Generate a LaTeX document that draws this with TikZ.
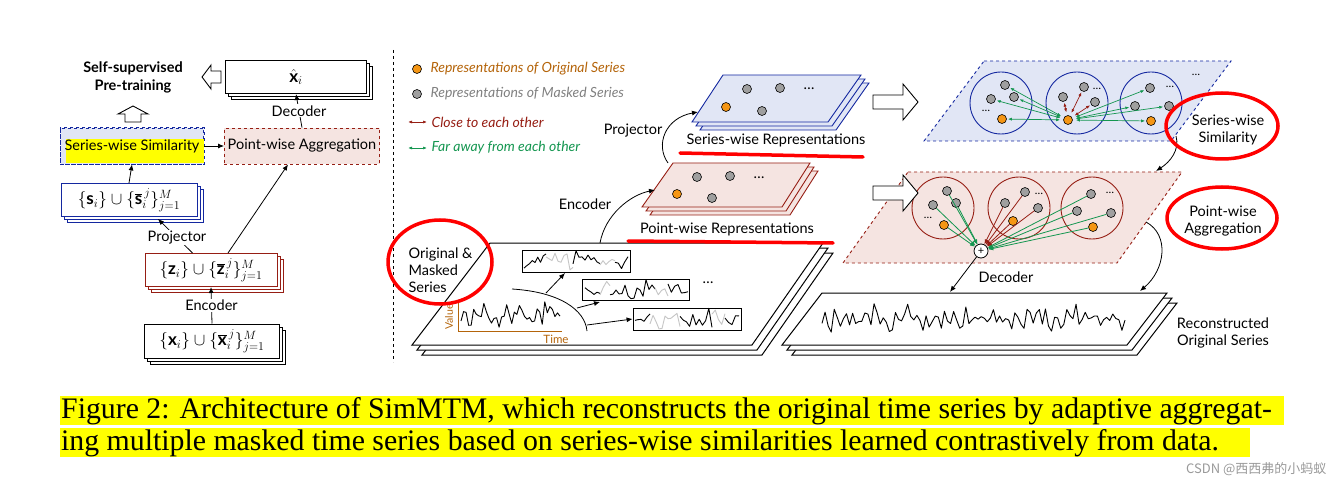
\documentclass[tikz,border=0pt]{standalone}
\usepackage{fontspec}
\setmainfont{Lato}
\newfontfamily\capfont{Liberation Serif}
\newfontfamily\cjkf{Noto Sans CJK SC}
\usetikzlibrary{arrows.meta,shadows}
\definecolor{myblue}{RGB}{20,40,160}
\definecolor{myred}{RGB}{150,30,20}
\definecolor{lblue}{RGB}{225,230,245}
\definecolor{lred}{RGB}{245,228,225}
\definecolor{myorange}{RGB}{245,150,20}
\definecolor{mybrown}{RGB}{180,100,10}
\definecolor{mygreen}{RGB}{20,150,80}
\definecolor{hl}{RGB}{255,255,0}
\newcommand\mywig[6][black]{\draw[#1,line width=0.9pt,line join=round] plot[domain=#2:#3,samples=#4,variable=\t] (\t,{#5+#6*(0.5*sin(mod(\t,100)*37)+0.3*sin(mod(\t,360)*11)+rand)});}
\begin{document}
\begin{tikzpicture}[x=1pt,y=-1pt,
  lab/.style={font=\fontsize{14.5}{17}\selectfont},
  stk/.style={rectangle,fill=white,line width=1pt,double copy shadow={shadow xshift=3pt,shadow yshift=-3pt,draw=#1,fill=white,line width=1pt},draw=#1,font=\fontsize{17}{20}\selectfont},
  arr/.style={-{Latex[length=6pt,width=5pt]},line width=0.8pt},
  dg/.style={circle,draw=black,fill=gray!75,inner sep=0pt,minimum size=9pt,line width=0.6pt},
  dor/.style={circle,draw=black,fill=myorange,inner sep=0pt,minimum size=9pt,line width=0.6pt},
  ga/.style={{Latex[length=4pt,width=3pt]}-{Latex[length=4pt,width=3pt]},mygreen,line width=0.7pt},
  ra/.style={{Latex[length=4pt,width=3pt]}-{Latex[length=4pt,width=3pt]},myred,line width=0.7pt},
  gs/.style={-{Latex[length=5pt,width=4pt]},mygreen,line width=0.8pt},
  rs/.style={-{Latex[length=5pt,width=4pt]},myred,line width=0.8pt},
  hol/.style={draw=black,fill=white,line width=0.9pt,line join=miter},
  leg/.style={anchor=west,font=\fontsize{14}{16}\selectfont\itshape},
  pen/.style={red,line width=3.5pt,line cap=round}]
\useasboundingbox (0,0) rectangle (1341,489);
\pgfmathsetseed{7}
% ---------- left panel
\node[font=\fontsize{14.5}{18}\selectfont\bfseries,align=center] (ssp) at (133,77) {Self-supervised\\Pre-training};
\draw[hol] (202,77) -- (211,65) -- (211,71) -- (221,71) -- (221,83) -- (211,83) -- (211,89) -- cycle;
\node[stk=black,minimum width=141pt,minimum height=33pt] (xhat) at (296,77) {$\hat{\mathbf{x}}_i$};
\draw[hol] (133,106) -- (148,114) -- (141,114) -- (141,122) -- (125,122) -- (125,114) -- (118,114) -- cycle;
\node[draw=myblue,dashed,fill=lblue,line width=0.8pt,minimum width=143pt,minimum height=36pt] (simil) at (132,146) {};
\fill[hl] (66,139) rectangle (204,163);
\draw[myblue,dashed,line width=0.8pt] (simil.north west) rectangle (simil.south east);
\node[lab] (similt) at (simil) {Series-wise Similarity};
\node[draw=myred,dashed,fill=lred,line width=0.8pt,minimum width=152pt,minimum height=36pt,lab] (agg) at (302,146) {Point-wise Aggregation};
\node[stk=myblue,minimum width=136pt,minimum height=33pt] (sbox) at (129,200) {$\{\mathbf{s}_i\}\cup\{\overline{\mathbf{s}}_i^{\,j}\}_{j=1}^{M}$};
\node[stk=myred,minimum width=132pt,minimum height=33pt] (zbox) at (211,270) {$\{\mathbf{z}_i\}\cup\{\overline{\mathbf{z}}_i^{\,j}\}_{j=1}^{M}$};
\node[stk=black,minimum width=135pt,minimum height=34pt] (xbox) at (212,341) {$\{\mathbf{x}_i\}\cup\{\overline{\mathbf{x}}_i^{\,j}\}_{j=1}^{M}$};
\draw[arr] (xbox.north) -- node[lab,fill=white,inner sep=1pt] {Encoder} (zbox.south);
\draw[arr] (zbox.north west)++(48,0) coordinate (zp) -- node[lab,fill=white,inner sep=1pt,pos=0.45] {Projector} (158,219) coordinate (sp);
\draw[arr] (sbox.north) -- (simil.south);
\draw[arr] (simil.east) -- (agg.west);
\draw[arr] (zbox.north)++(17,0) coordinate (zq) -- (288,164.5);
\draw[arr] (agg.north) -- node[lab,fill=white,inner sep=1pt] {Decoder} (xhat.south);
\draw[dashed,line width=0.8pt] (393,50) -- (393,362);
% ---------- legend
\node[dor] (l1) at (417,69) {};
\node[leg,text=mybrown] at (427,69) {Representations of Original Series};
\node[dg] (l2) at (417,94) {};
\node[leg,text=gray] at (427,94) {Representations of Masked Series};
\coordinate (r1) at (408,122); \coordinate (r2) at (427,122);
\draw[ra] (r1) -- (r2);
\node[leg,text=myred] at (428,122) {Close to each other};
\coordinate (g1) at (408,148); \coordinate (g2) at (427,148);
\draw[ga] (g1) -- (g2);
\node[leg,text=mygreen] at (428,148) {Far away from each other};
% ---------- input plane
\foreach \o in {10,5,0}{
 \draw[fill=white,line width=1pt] (490+\o,243+\o) -- (823+\o,243+\o) -- (752+\o,345+\o) -- (412+\o,345+\o) -- cycle;}
\node[lab,align=left,anchor=west] at (405,270) {Original \&\\Masked\\Series};
\draw[mybrown,line width=0.8pt] (458,303) -- (458,331) -- (562,331);
\node[text=mybrown,rotate=90,font=\fontsize{10.5}{12}\selectfont] at (449,317) {Value};
\node[text=mybrown,font=\fontsize{11.5}{12}\selectfont] at (556,339) {Time};
\mywig{461}{560}{40}{314}{8}
\draw[line width=0.8pt] (512,289) .. controls (560,292) and (585,310) .. (587,331);
\node[draw,line width=0.8pt,minimum width=108pt,minimum height=22pt] (b1) at (576,261) {};
\node[draw,line width=0.8pt,minimum width=107pt,minimum height=21pt] (b2) at (636,290) {};
\node[draw,line width=0.8pt,minimum width=108pt,minimum height=22pt] (b3) at (687,319) {};
\mywig{524}{546}{9}{261}{7}\mywig[gray!45]{546}{573}{10}{261}{7}\mywig{573}{600}{10}{261}{7}\mywig[gray!45]{600}{615}{6}{261}{7}\mywig{615}{628}{5}{261}{7}
\mywig{585}{600}{6}{290}{7}\mywig[gray!45]{600}{610}{4}{290}{7}\mywig{610}{655}{16}{290}{7}\mywig[gray!45]{655}{668}{5}{290}{7}\mywig{668}{688}{7}{290}{7}
\mywig{635}{650}{6}{319}{7}\mywig[gray!45]{650}{680}{11}{319}{7}\mywig{680}{712}{11}{319}{7}\mywig[gray!45]{712}{725}{5}{319}{7}\mywig{725}{739}{5}{319}{7}
\node[lab] at (708,283) {\dots};
\coordinate (c1) at (546,293); \coordinate (c2) at (577,308); \coordinate (c3) at (587,325);
\draw[arr] (c1) -- (565,273);
\draw[arr] (c2) -- (600,302);
\draw[arr] (c3) -- (b3.west);
% ---------- point-wise reps
\foreach \o in {8,4,0}{
 \draw[fill=lred,draw=myred,line width=0.9pt] (673+\o,163+\o) -- (810+\o,163+\o) -- (782+\o,207+\o) -- (642+\o,207+\o) -- cycle;}
\node[dg] at (697,177) {}; \node[dg] at (730,176) {}; \node[dg] at (712,198) {}; \node[dor] at (677,194) {};
\node[lab] at (759,178) {\dots};
\node[lab] (pwr) at (727,229) {Point-wise Representations};
\node[lab] (enc) at (585,204) {Encoder};
\coordinate (e0) at (600,243); \coordinate (e1) at (655,190);
\draw[arr] (e0) .. controls (605,215) and (630,195) .. (e1);
% ---------- series-wise reps
\foreach \o in {8,4,0}{
 \draw[fill=lblue,draw=myblue,line width=0.9pt] (723+\o,75+\o) -- (861+\o,75+\o) -- (828+\o,122+\o) -- (692+\o,122+\o) -- cycle;}
\node[dg] at (747,89) {}; \node[dg] at (780,88) {}; \node[dg] at (762,111) {}; \node[dor] at (726,107) {};
\node[lab] at (809,89) {\dots};
\node[lab] (swr) at (776,140) {Series-wise Representations};
\node[lab] (proj) at (633,131) {Projector};
\coordinate (p0) at (668,163); \coordinate (p1) at (698,112);
\draw[arr] (p0) .. controls (655,145) and (665,118) .. (p1);
% ---------- similarity plane
\draw[fill=lblue,draw=myblue,dashed,line width=0.9pt] (984,61) -- (1231,61) -- (1171,141) -- (924,141) -- cycle;
\foreach \x in {1001,1077,1151}{\draw[myblue,line width=0.9pt] (\x,103) circle (31);}
\node[dor] (o0) at (1068,120) {};
\node[dg] (a1) at (1005,85) {}; \node[dg] (a2) at (991,99) {}; \node[dg] (a3) at (1014,97) {}; \node[dor] (a4) at (1002,119) {};
\node[dg] (m1) at (1063,97) {}; \node[dg] (m2) at (1084,87) {}; \node[dg] (m3) at (1095,102) {};
\node[dg] (n1) at (1150,88) {}; \node[dg] (n2) at (1135,106) {}; \node[dor] (n3) at (1151,121) {}; \node[dg] (n4) at (1169,106) {};
\node[font=\fontsize{11}{12}\selectfont] at (986,111) {\dots};
\node[font=\fontsize{11}{12}\selectfont] at (1097,89) {\dots};
\node[font=\fontsize{11}{12}\selectfont] at (1170,87) {\dots};
\node[font=\fontsize{11}{12}\selectfont] at (1196,75) {\dots};
\foreach \t in {a1,a2,a3,a4,n1,n2,n3,n4}{\draw[ga,shorten <=3pt,shorten >=1pt] (o0) -- (\t);}
\foreach \t in {m1,m2,m3}{\draw[ra,shorten <=3pt,shorten >=1pt] (o0) -- (\t);}
% ---------- aggregation plane
\draw[fill=lred,draw=myred,dashed,line width=0.9pt] (908,172) -- (1182,172) -- (1117,263) -- (843,263) -- cycle;
\foreach \x in {943,1019,1092}{\draw[myred,line width=0.9pt] (\x,208) circle (31);}
\node[circle,draw,fill=white,inner sep=0pt,minimum size=14pt,line width=0.8pt,font=\fontsize{11}{12}\selectfont] (plus) at (981,251) {+};
\node[dg] (p1a) at (947,191) {}; \node[dg] (p1b) at (933,205) {}; \node[dg] (p1c) at (956,203) {}; \node[dor] (p1d) at (944,225) {};
\node[dg] (p2a) at (1025,192) {}; \node[dg] (p2b) at (1005,203) {}; \node[dg] (p2c) at (1038,208) {}; \node[dor] (p2d) at (1013,221) {};
\node[dg] (p3a) at (1091,194) {}; \node[dg] (p3b) at (1077,211) {}; \node[dg] (p3c) at (1111,213) {}; \node[dor] (p3d) at (1093,227) {};
\node[font=\fontsize{11}{12}\selectfont] at (928,218) {\dots};
\node[font=\fontsize{11}{12}\selectfont] at (1039,194) {\dots};
\node[font=\fontsize{11}{12}\selectfont] at (1110,193) {\dots};
\foreach \t in {p1a,p1b,p1c,p1d,p3a,p3b,p3c,p3d}{\draw[gs] (\t) -- (plus);}
\foreach \t in {p2a,p2b,p2c,p2d}{\draw[rs] (\t) -- (plus);}
\node[lab,align=center] (swsim) at (1228,130) {Series-wise\\Similarity};
\node[lab,align=center] (pwagg) at (1223,221) {Point-wise\\Aggregation};
\coordinate (s0) at (1176,136); \coordinate (s1) at (1156,171);
\draw[arr] (s0) .. controls (1180,150) and (1170,162) .. (s1);
\node[lab] (dec) at (1006,277) {Decoder};
% hollow arrows (on top)
\draw[hol] (873,95) -- (903,95) -- (903,84) -- (918,102) -- (903,120) -- (903,109) -- (873,109) -- cycle;
\draw[hol] (873,186) -- (903,186) -- (903,175) -- (918,193) -- (903,211) -- (903,200) -- (873,200) -- cycle;
% ---------- reconstructed plane
\foreach \o in {10,5,0}{
 \draw[fill=white,line width=1pt] (822+\o,293+\o) -- (1167+\o,293+\o) -- (1127+\o,345+\o) -- (782+\o,345+\o) -- cycle;}
\mywig{822}{1125}{100}{318}{9}
\node[lab,align=center] (rec) at (1223,333) {Reconstructed\\Original Series};
\coordinate (d1) at (950,292);
\draw[arr] (plus) -- (d1);
\coordinate (q0) at (1146,222); \coordinate (q1) at (1140,291);
\draw[arr] (q0) .. controls (1170,235) and (1165,270) .. (q1);
% ---------- red pen marks
\draw[pen] (440,262) ellipse (52 and 42);
\draw[pen] (680,153) -- (863,157);
\draw[pen] (628,241) -- (833,243);
\draw[pen] (1222,126) ellipse (56 and 33);
\draw[pen] (1222,218) ellipse (55 and 31);
% ---------- caption
\fill[hl] (60,396) rectangle (1284,425);
\fill[hl] (60,428) rectangle (1250,457);
\node[anchor=west,inner sep=0pt,font=\capfont\fontsize{29.8}{32}\selectfont] (cap1) at (61,411) {Figure 2: Architecture of SimMTM, which reconstructs the original time series by adaptive aggregat-};
\node[anchor=west,inner sep=0pt,font=\capfont\fontsize{29.8}{32}\selectfont] (cap2) at (61,443) {ing multiple masked time series based on series-wise similarities learned contrastively from data.};
\node[anchor=east,text=gray!80,font=\cjkf\fontsize{13}{15}\selectfont] (wm) at (1330,469) {CSDN @西西弗的小蚂蚁};
\end{tikzpicture}
\end{document}
